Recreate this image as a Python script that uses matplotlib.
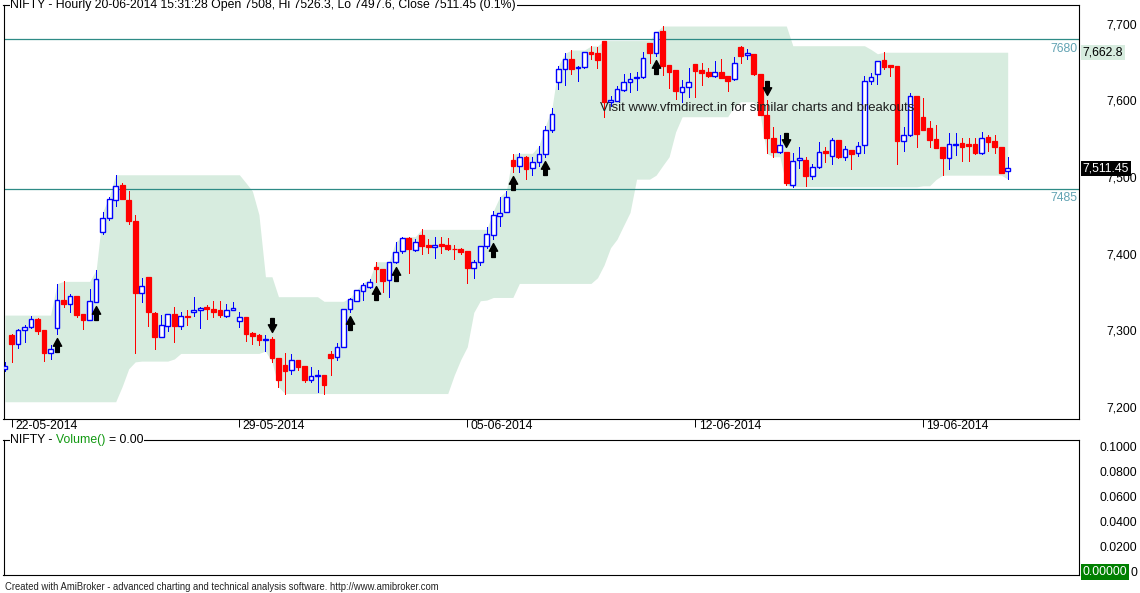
import matplotlib
matplotlib.use("Agg")
import matplotlib.pyplot as plt
import matplotlib.transforms as mtransforms
from matplotlib.path import Path
import numpy as np

plt.rcParams['font.family'] = ['Liberation Sans', 'DejaVu Sans']

# NIFTY hourly bars, last bar of 21-05-2014 .. 20-06-2014 (155 bars)
opens = [
    7250, 7294, 7282, 7301, 7304, 7315.4, 7300, 7270.6, 7303.7, 7340.2,
    7335, 7344.6, 7321, 7313.7, 7337.2, 7428.5, 7447.2, 7470.7, 7489.4, 7470.7,
    7442.4, 7349, 7369.8, 7323, 7291.5, 7306.3, 7321, 7306.3, 7318.5, 7324,
    7326.3, 7330.6, 7328.5, 7326.3, 7318.9, 7326.3, 7312.4, 7317.6, 7296.7, 7293.7,
    7287, 7288.7, 7264, 7254.7, 7248.2, 7261.2, 7253.4, 7236, 7241, 7241.7,
    7269, 7265.6, 7278.6, 7327.8, 7338.7, 7351.7, 7357, 7382.2, 7380, 7365.6,
    7388.7, 7403.5, 7420, 7404.4, 7424.4, 7411.3, 7408.3, 7412.6, 7411.3, 7406.5,
    7406.5, 7403.5, 7380.9, 7388.7, 7410.5, 7424.4, 7449.6, 7453.9, 7522.3, 7514.9,
    7526.5, 7511.2, 7520, 7529.5, 7561.2, 7624.3, 7640.4, 7653.5, 7641.7, 7643,
    7662.6, 7661.3, 7677.8, 7598.2, 7599.5, 7613.5, 7623.5, 7628.7, 7630, 7674.4,
    7661.3, 7690.4, 7646, 7639.5, 7611.3, 7617.8, 7646.9, 7639.5, 7636.5, 7632.2,
    7637.4, 7631.7, 7627.4, 7669.1, 7659.1, 7660.4, 7633.9, 7580.8, 7550.4, 7533,
    7532.1, 7490.3, 7522.9, 7522, 7501.7, 7512.5, 7533.8, 7527.3, 7548.2, 7525.6,
    7535.1, 7530.8, 7541.7, 7625.6, 7633.9, 7652.6, 7646.1, 7644.8, 7547.3, 7554.3,
    7605.6, 7578.7, 7563.4, 7549.5, 7538.6, 7524.3, 7541.2, 7543.9, 7543, 7542.5,
    7530.8, 7551.7, 7546.9, 7538.6, 7508,
]
highs = [
    7259, 7295, 7302, 7307, 7318.5, 7316, 7300.5, 7280.6, 7361, 7364,
    7348, 7345, 7321.5, 7353.7, 7378.5, 7454.6, 7474, 7503, 7492.5, 7481.6,
    7451, 7369, 7370, 7323.5, 7319.8, 7321, 7330.6, 7324.6, 7327, 7344,
    7330.6, 7333, 7338, 7338, 7335, 7336.7, 7324, 7318, 7298, 7296,
    7294.5, 7291.7, 7264.5, 7270.8, 7269, 7261.5, 7253.8, 7251.7, 7248, 7242,
    7273.4, 7283, 7327.4, 7342.6, 7352.6, 7362.2, 7366.5, 7389.6, 7380.3, 7388.7,
    7415.7, 7421.3, 7422.2, 7418.7, 7431.8, 7418.7, 7421.3, 7421.3, 7420, 7411.3,
    7407, 7404, 7391.7, 7410, 7435.3, 7455.7, 7474.4, 7481.8, 7530, 7531,
    7527, 7525.6, 7540.8, 7566.5, 7589.5, 7645.2, 7661.3, 7665.7, 7644.8, 7662.6,
    7670.9, 7669.1, 7678, 7605.6, 7618.7, 7634.3, 7636, 7637.4, 7662.6, 7674.8,
    7688.7, 7697, 7646.3, 7640, 7626.5, 7641.7, 7647.2, 7648.3, 7641.7, 7651.7,
    7653.5, 7632, 7656.1, 7671.3, 7666.5, 7660.8, 7634.2, 7600, 7565.6, 7554.7,
    7532.5, 7530.8, 7538.6, 7525.6, 7516.9, 7545.2, 7539.5, 7550.4, 7548.5, 7540.4,
    7535.4, 7546, 7631.7, 7635.2, 7651.7, 7662.8, 7646.4, 7645.1, 7564.7, 7610,
    7606, 7602.6, 7573.4, 7567.4, 7539, 7556.9, 7556.9, 7550.4, 7550.4, 7550.4,
    7558.2, 7554.7, 7554.7, 7539, 7526.3,
]
lows = [
    7247, 7259, 7277, 7285, 7303, 7296, 7260, 7262.8, 7295, 7330.6,
    7324, 7317.6, 7302, 7313, 7337, 7426.3, 7444.6, 7462, 7471, 7439.4,
    7270, 7337, 7306, 7276, 7291, 7299.3, 7285, 7302, 7306.7, 7319,
    7303, 7315.4, 7317.6, 7317.6, 7318, 7326, 7304.5, 7286, 7282.8, 7281.5,
    7273, 7259, 7226.4, 7217.7, 7243, 7248.2, 7233, 7233, 7220, 7217.7,
    7241.7, 7262, 7278.6, 7323.5, 7338.7, 7339.6, 7354.8, 7363.5, 7350.4, 7343,
    7387.4, 7400.4, 7375.2, 7404, 7399.6, 7401.3, 7394.8, 7401.3, 7405, 7392.6,
    7399.6, 7361.3, 7368.7, 7385.2, 7407.8, 7419, 7436.6, 7453.9, 7507, 7507,
    7497.3, 7502.5, 7514.7, 7526.5, 7559, 7614.3, 7620, 7634.3, 7625.6, 7642.6,
    7653.9, 7642.6, 7578.7, 7592.6, 7599, 7612.6, 7611.3, 7613.5, 7629.5, 7648.3,
    7658, 7633, 7615.6, 7601.7, 7598.2, 7604.8, 7604.8, 7620, 7630, 7630.9,
    7628.7, 7612.6, 7627, 7649.1, 7653.5, 7633.5, 7580.4, 7530.8, 7526.5, 7530.8,
    7489.5, 7487.3, 7511.2, 7488.6, 7496.9, 7511.2, 7519.9, 7516.4, 7525.3, 7522,
    7509.9, 7527.8, 7531.7, 7622, 7620.8, 7640.4, 7631.7, 7516.4, 7534.3, 7553.9,
    7539.5, 7560.8, 7538.6, 7537.8, 7502.5, 7509.9, 7528.6, 7521.2, 7521.2, 7530.5,
    7530.5, 7534.3, 7530.8, 7505.3, 7497.6,
]
closes = [
    7253, 7282, 7301, 7304.5, 7315.4, 7299.3, 7270.6, 7276.3, 7340.2, 7334.1,
    7345.4, 7319.8, 7313.7, 7338, 7366.8, 7447.2, 7472, 7488.1, 7471.6, 7442.4,
    7349, 7358.5, 7324, 7291.5, 7306.7, 7321, 7306, 7318.5, 7317.6, 7326,
    7329.8, 7328.5, 7324, 7319.8, 7326.3, 7329.3, 7317.6, 7295.8, 7292.8, 7287,
    7288.5, 7264.3, 7235, 7247.4, 7261.2, 7252.5, 7235, 7240.4, 7241.3, 7228.6,
    7264.3, 7278.6, 7327.4, 7340.4, 7352.6, 7359, 7363.5, 7380, 7364.8, 7388.7,
    7401.7, 7420, 7405.7, 7414.8, 7410.5, 7408.3, 7411.3, 7410.5, 7405.7, 7405.7,
    7402.2, 7380.9, 7388.7, 7410, 7425.2, 7450.5, 7452.6, 7473.5, 7514.9, 7525.7,
    7510.4, 7520, 7529.5, 7561.2, 7582.1, 7640.4, 7653.5, 7641.3, 7643, 7662.6,
    7660.4, 7652.6, 7598.2, 7600.4, 7614.3, 7623.5, 7627.4, 7629.9, 7654.8, 7661.3,
    7688.7, 7645.2, 7637.4, 7612.6, 7617.8, 7624.3, 7638.7, 7636, 7632.2, 7637.4,
    7629.5, 7625.6, 7648.3, 7657.8, 7662.2, 7633.9, 7580.8, 7550.4, 7533, 7541.7,
    7491.7, 7521.2, 7524.3, 7501.7, 7512.5, 7533, 7531.7, 7548.2, 7525.6, 7536,
    7529.5, 7540.8, 7625.6, 7630, 7651.7, 7643.9, 7643, 7547.3, 7555.2, 7605.6,
    7556, 7561.2, 7548.2, 7538.2, 7524.3, 7542.5, 7542.5, 7539.5, 7540.4, 7530.8,
    7550.4, 7546, 7538.6, 7505.6, 7511.45,
]

# channel (shaded band), read per bar
band_hi = ([7320] * 8 + [7361] + [7364] * 5 + [7378.5, 7454.6, 7474] + [7503] * 20
           + [7492.5, 7481.6, 7451] + [7370] * 2 + [7344] * 7 + [7338] * 4
           + [7342.6, 7352.6, 7362.2, 7366.5] + [7389.6] * 3 + [7415.7, 7421.3]
           + [7422.2] * 2 + [7431.8] * 11 + [7455.7, 7474.4, 7481.8, 7530] + [7531] * 3
           + [7540.8, 7566.5, 7589.5, 7645.2, 7661.3] + [7665.7] * 3 + [7670.9] * 2
           + [7678] * 8 + [7688.7] + [7697] * 20 + [7671.3] * 12 + [7666.5, 7660.8]
           + [7662.8] * 20)
band_lo = ([7207] * 18 + [7227, 7250, 7259] + [7260] * 5 + [7262.8] + [7270] * 13
           + [7273, 7259, 7226.4] + [7217.7] * 26 + [7241.7, 7262, 7278.6, 7323.5, 7338.7, 7339.6]
           + [7343] * 4 + [7361.3] * 12 + [7368.7, 7385.2, 7407.8, 7419, 7436.6, 7453.9]
           + [7497.3] * 3 + [7502.5, 7514.7, 7526.5, 7559] + [7578.7] * 8 + [7592.6]
           + [7598.2] * 3 + [7580.4, 7530.8] + [7526.5] * 2 + [7489.5] + [7487.3] * 20
           + [7488.6] * 2 + [7496.9] + [7502.5] * 10 + [7497.6])

buy_bars = [8, 14, 53, 57, 60, 75, 78, 83, 100]   # 0-based bar index
sell_bars = [41, 117, 120]
date_ticks = [1, 36, 71, 106, 141]
date_labels = ["22-05-2014", "29-05-2014", "05-06-2014", "12-06-2014", "19-06-2014"]
levels = [7680, 7485]
price_ticks = [7200, 7300, 7400, 7500, 7600, 7700]
vol_ticks = [0, 0.02, 0.04, 0.06, 0.08, 0.1]
vol_labels = ["0", "0.0200", "0.0400", "0.0600", "0.0800", "0.1000"]

title = "NIFTY - Hourly 20-06-2014 15:31:28 Open 7508, Hi 7526.3, Lo 7497.6, Close 7511.45 (0.1%)"

o = np.array(opens); h = np.array(highs); l = np.array(lows); c = np.array(closes)
x = np.arange(len(o))
up = c >= o

W, H = 1140, 593
fig = plt.figure(figsize=(W / 100, H / 100), dpi=100)
ax = fig.add_axes([3.5 / W, 1 - 419 / H, 1075.8 / W, 414 / H])
vax = fig.add_axes([3.5 / W, 1 - 575 / H, 1075.8 / W, 135 / H])

band_col = "#d7ecdf"
ax.fill_between(x, band_lo, band_hi, color=band_col, lw=0, zorder=1)
for lv in levels:
    ax.axhline(lv, color="#2e8b86", lw=0.9, zorder=1.5)
    ax.annotate(str(lv), xy=(0.998, lv), xycoords=ax.get_yaxis_transform(),
                xytext=(0, -2.5), textcoords="offset points", ha="right", va="top",
                fontsize=8.7, color="#62a3b3")

# candles
cols = np.where(up, "#0000ff", "#ff0000")
ax.vlines(x, l, h, colors=cols, lw=0.72, zorder=2, antialiased=False)
body_lo = np.minimum(o, c)
body_h = np.maximum(np.abs(c - o), 0.4)
ax.bar(x[up], body_h[up], bottom=body_lo[up], width=0.72, facecolor="white",
       edgecolor="#0000ff", lw=1.0, zorder=3)
ax.bar(x[~up], body_h[~up], bottom=body_lo[~up], width=0.72, facecolor="#ff0000",
       edgecolor="#ff0000", lw=0.9, zorder=3)

# buy / sell arrows
arrow_up = Path([(0, 7), (4.2, -0.7), (1.85, -0.7), (1.85, -7), (-1.85, -7),
                 (-1.85, -0.7), (-4.2, -0.7), (0, 7)],
                [Path.MOVETO] + [Path.LINETO] * 6 + [Path.CLOSEPOLY])
arrow_dn = Path(arrow_up.vertices * [1, -1], arrow_up.codes)
below = mtransforms.offset_copy(ax.transData, fig=fig, y=-11, units="dots")
above = mtransforms.offset_copy(ax.transData, fig=fig, y=12, units="dots")
ax.plot(x[buy_bars], l[buy_bars], ls="none", marker=arrow_up, ms=10, color="black",
        mec="black", transform=below, zorder=4)
ax.plot(x[sell_bars], h[sell_bars], ls="none", marker=arrow_dn, ms=10, color="black",
        mec="black", transform=above, zorder=4)

ax.text(0.5545, 0.7512, "Visit www.vfmdirect.in for similar charts and breakouts",
        transform=ax.transAxes, fontsize=9.45, color="#1e1e1e", va="center", ha="left", zorder=5)

ax.set_xlim(-0.23, 165.0)
ax.set_ylim(7184.5, 7724.4)
ax.yaxis.tick_right()
ax.set_yticks(price_ticks)
ax.set_yticklabels([f"{v:,}" for v in price_ticks])
ax.tick_params(axis="y", length=0, pad=41.5, labelsize=8.8)
for lab in ax.get_yticklabels():
    lab.set_ha("right")

ax.set_xticks(date_ticks)
ax.set_xticklabels(date_labels)
ax.tick_params(axis="x", direction="out", length=6, width=0.7, pad=-5, labelsize=8.8)
shift = mtransforms.ScaledTranslation(3.5 / 100, 0, fig.dpi_scale_trans)
for lab in ax.get_xticklabels():
    lab.set_ha("left")
    lab.set_va("top")
    lab.set_transform(lab.get_transform() + shift)

for sp in ax.spines.values():
    sp.set_linewidth(0.8)

ax.text(0.0065, 1.0, title, transform=ax.transAxes, fontsize=8.8, va="center", ha="left",
        bbox=dict(facecolor="white", edgecolor="none", pad=0.6), zorder=6)

yt = ax.get_yaxis_transform()
ax.annotate("7,662.8", xy=(1, band_hi[-1]), xycoords=yt, xytext=(2.6, 0),
            textcoords="offset points", ha="left", va="center", fontsize=8.8, color="black",
            bbox=dict(facecolor=band_col, edgecolor="none", pad=1.2), annotation_clip=False)
ax.annotate(f"{closes[-1]:,.2f}", xy=(1, closes[-1]), xycoords=yt, xytext=(2.6, 0),
            textcoords="offset points", ha="left", va="center", fontsize=8.8, color="white",
            bbox=dict(facecolor="black", edgecolor="none", pad=1.2), annotation_clip=False)

# volume pane
vax.set_xlim(-0.23, 165.0)
vax.set_ylim(-0.0024, 0.1048)
vax.set_xticks([])
vax.yaxis.tick_right()
vax.set_yticks(vol_ticks)
vax.set_yticklabels(vol_labels)
vax.tick_params(axis="y", length=0, pad=41.5, labelsize=8.8)
for lab in vax.get_yticklabels():
    lab.set_ha("right")
for sp in vax.spines.values():
    sp.set_linewidth(0.8)

t1 = vax.text(0.0065, 1.0, "NIFTY - ", transform=vax.transAxes, fontsize=8.8,
              va="center", ha="left", bbox=dict(facecolor="white", edgecolor="none", pad=0.6),
              zorder=6)
t2 = vax.annotate("Volume() ", xy=(1, 0), xycoords=t1, va="bottom", ha="left", fontsize=8.8,
                  color="#119911", bbox=dict(facecolor="white", edgecolor="none", pad=0.6),
                  zorder=6, annotation_clip=False)
vax.annotate("= 0.00", xy=(1, 0), xycoords=t2, va="bottom", ha="left", fontsize=8.8,
             bbox=dict(facecolor="white", edgecolor="none", pad=0.6), zorder=6,
             annotation_clip=False)
vax.annotate("0.00000", xy=(1, 0), xycoords=vax.get_yaxis_transform(), xytext=(2.6, 0),
             textcoords="offset points", ha="left", va="center", fontsize=8.8, color="white",
             bbox=dict(facecolor="#008000", edgecolor="none", pad=1.2), annotation_clip=False)

fig.text(5 / W, 1 - 587 / H, "Created with AmiBroker - advanced charting and technical "
         "analysis software. http://www.amibroker.com", fontsize=6.85, va="center", ha="left",
         color="#222222")

fig.savefig("out.png", dpi=100, facecolor="white")
